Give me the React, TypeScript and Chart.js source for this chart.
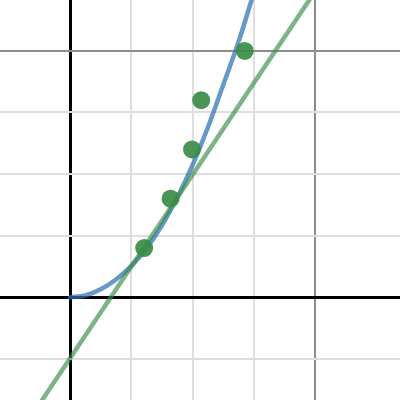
import { useEffect, useRef } from "react";
import { Chart, ChartConfiguration } from "chart.js/auto";

// curve (grid units, one minor square = 1)
const curveX = [0, 0.25, 0.5, 0.75, 1.0, 1.25, 1.5, 1.75, 2.0, 2.25, 2.5, 2.75, 3.0];
const curveY = [0, 0.03, 0.13, 0.29, 0.51, 0.8, 1.17, 1.62, 2.15, 2.76, 3.45, 4.15, 4.95];

// straight line end points
const lineX = [-1.2, 4.0];
const lineY = [-2.78, 4.97];

// data points
const dotX = [1.21, 1.64, 1.99, 2.14, 2.85];
const dotY = [0.8, 1.6, 2.4, 3.2, 4.0];

const xMin = -1.142;
const xMax = 5.383;
const yMin = -1.667;
const yMax = 4.826;

const toXY = (xs: number[], ys: number[]) => xs.map((x, i) => ({ x, y: ys[i] }));

const gridColor = (v: number) => {
    if (Math.abs(v - Math.round(v)) > 1e-6) return "rgba(0,0,0,0)";
    if (v === 0) return "#000000";
    if (v % 4 === 0) return "#8c8c8c";
    return "#dedede";
};
const gridWidth = (v: number) => (v === 0 ? 3 : 2);

export default function App() {
    const chartRef = useRef<HTMLCanvasElement>(null);
    const chartInstance = useRef<Chart | null>(null);

    useEffect(() => {
        if (!chartRef.current) return;
        if (chartInstance.current) chartInstance.current.destroy();
        const ctx = chartRef.current.getContext("2d");
        if (!ctx) return;

        const config: ChartConfiguration = {
            type: "scatter",
            data: {
                datasets: [
                    {
                        label: "points",
                        data: toXY(dotX, dotY),
                        backgroundColor: "rgba(56,140,70,0.92)",
                        borderWidth: 0,
                        pointRadius: 9,
                        order: 0,
                    },
                    {
                        label: "line",
                        data: toXY(lineX, lineY),
                        showLine: true,
                        borderColor: "rgba(56,140,70,0.65)",
                        borderWidth: 4.5,
                        pointRadius: 0,
                        order: 1,
                    },
                    {
                        label: "curve",
                        data: toXY(curveX, curveY),
                        showLine: true,
                        borderColor: "rgba(45,112,179,0.72)",
                        borderWidth: 4.5,
                        borderCapStyle: "round",
                        tension: 0.4,
                        pointRadius: 0,
                        order: 2,
                    },
                ],
            },
            options: {
                responsive: false,
                animation: false,
                layout: { padding: 0, autoPadding: false },
                plugins: {
                    legend: { display: false },
                    tooltip: { enabled: false },
                },
                scales: {
                    x: {
                        type: "linear",
                        min: xMin,
                        max: xMax,
                        ticks: { display: false, stepSize: 1 },
                        border: { display: false },
                        grid: {
                            drawTicks: false,
                            color: (c: any) => gridColor(c.tick.value),
                            lineWidth: (c: any) => gridWidth(c.tick.value),
                        },
                    },
                    y: {
                        type: "linear",
                        min: yMin,
                        max: yMax,
                        ticks: { display: false, stepSize: 1 },
                        border: { display: false },
                        grid: {
                            drawTicks: false,
                            color: (c: any) => gridColor(c.tick.value),
                            lineWidth: (c: any) => gridWidth(c.tick.value),
                        },
                    },
                },
            },
        };

        chartInstance.current = new Chart(ctx, config);

        return () => {
            if (chartInstance.current) chartInstance.current.destroy();
        };
    }, []);

    return (
        <div style={{ position: "fixed", left: 0, top: 0, width: 400, height: 400, background: "#fff" }}>
            <canvas ref={chartRef} width={400} height={400}></canvas>
        </div>
    );
}
